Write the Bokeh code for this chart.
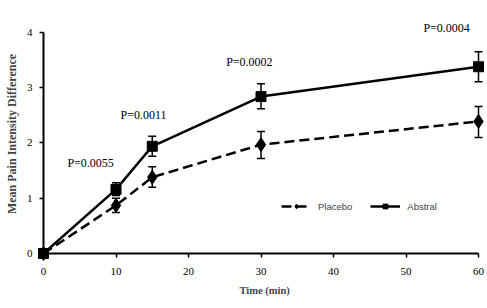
from bokeh.plotting import figure
from bokeh.models import Range1d, Whisker, ColumnDataSource, Label, TeeHead, FixedTicker, Legend
from bokeh.embed import file_html
from bokeh.resources import INLINE

times = [0, 10, 15, 30, 60]
placebo = [0.0, 0.87, 1.38, 1.97, 2.39]
placebo_lo = [0.0, 0.74, 1.20, 1.72, 2.10]
placebo_hi = [0.0, 1.00, 1.57, 2.21, 2.66]
abstral = [0.0, 1.16, 1.94, 2.84, 3.38]
abstral_lo = [0.0, 1.05, 1.76, 2.62, 3.11]
abstral_hi = [0.0, 1.28, 2.12, 3.07, 3.65]
p_text = ["P=0.0055", "P=0.0011", "P=0.0002", "P=0.0004"]
p_x = [6.5, 13.8, 28.4, 55.6]
p_y = [1.63, 2.50, 3.46, 4.09]
x_ticks = [0, 10, 20, 30, 40, 50, 60]
y_ticks = [0, 1, 2, 3, 4]

p = figure(width=487, height=308, output_backend="svg", toolbar_location=None,
           x_range=Range1d(-5.931, 61.241), y_range=Range1d(-0.9955, 4.579),
           min_border_left=0, min_border_right=0, min_border_top=0, min_border_bottom=0)
p.outline_line_color = None
p.xgrid.visible = False
p.ygrid.visible = False
p.background_fill_color = "white"
p.border_fill_color = "white"

for ax, ticks, bnds, so in ((p.xaxis[0], x_ticks, (0, 60), 11), (p.yaxis[0], y_ticks, (0, 4), 7)):
    ax.fixed_location = 0
    ax.bounds = bnds
    ax.ticker = FixedTicker(ticks=ticks)
    ax.minor_tick_line_color = None
    ax.axis_line_width = 2
    ax.axis_line_color = "black"
    ax.major_tick_line_width = 1.5
    ax.major_tick_in = 0
    ax.major_tick_out = 4
    ax.major_label_standoff = so
    ax.major_label_text_font = "Liberation Serif"
    ax.major_label_text_font_size = "11px"
    ax.major_label_text_color = "black"

src = ColumnDataSource(dict(t=times, pl=placebo, pl_lo=placebo_lo, pl_hi=placebo_hi,
                            ab=abstral, ab_lo=abstral_lo, ab_hi=abstral_hi))

l1 = p.line("t", "pl", source=src, line_width=2.5, line_dash="10 5", color="black")
m1 = p.scatter("t", "pl", source=src, marker="diamond", size=14, color="black")
l2 = p.line("t", "ab", source=src, line_width=2.5, color="black")
m2 = p.scatter("t", "ab", source=src, marker="square", size=10, color="black")

for lo, hi in (("pl_lo", "pl_hi"), ("ab_lo", "ab_hi")):
    w = Whisker(base="t", lower=lo, upper=hi, source=src, line_width=1.5, line_color="black",
                upper_head=TeeHead(size=8, line_width=1.5, line_color="black"),
                lower_head=TeeHead(size=8, line_width=1.5, line_color="black"))
    p.add_layout(w)

for txt, x, y in zip(p_text, p_x, p_y):
    p.add_layout(Label(x=x, y=y, text=txt, text_font="Liberation Serif", text_font_size="12px",
                       text_align="center", text_baseline="middle", text_color="black"))

p.add_layout(Label(x=30.5, y=-0.67, text="Time (min)", text_font="Liberation Serif",
                   text_font_size="10.5px", text_font_style="bold", text_align="center",
                   text_baseline="middle"))
p.add_layout(Label(x=-4.28, y=2.19, text="Mean  Pain Intensity Difference", text_font="Liberation Serif",
                   text_font_size="12px", text_font_style="bold", text_align="center",
                   text_baseline="middle", angle=1.5707963))

legend = Legend(items=[("Placebo", [l1, m1]), ("Abstral", [l2, m2])], orientation="horizontal",
                location=(281, 96), border_line_color=None, background_fill_alpha=0,
                padding=0, margin=0, spacing=18, glyph_width=30, glyph_height=12,
                label_height=12, label_text_font="Liberation Sans", label_text_font_size="9.5px",
                label_standoff=7)
p.add_layout(legend)

open("out.html", "w").write(file_html(p, INLINE))
